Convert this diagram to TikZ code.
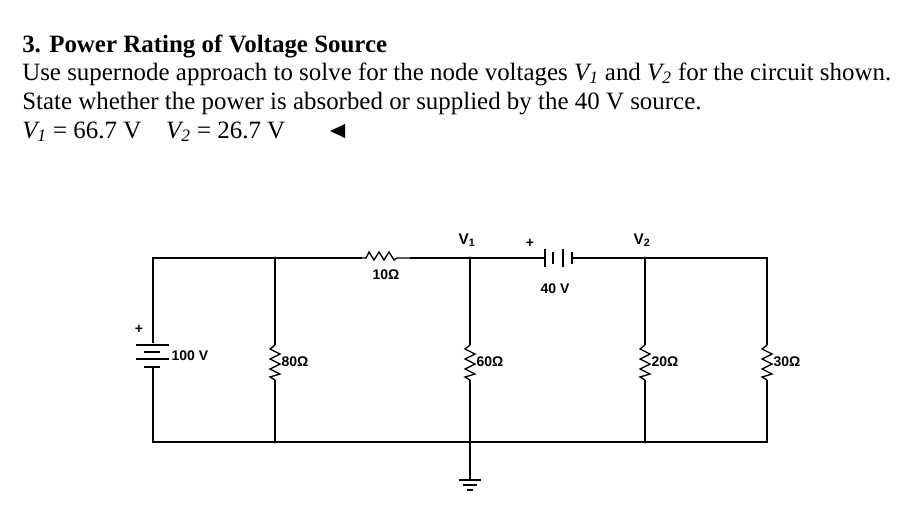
\documentclass[tikz,border=0pt]{standalone}
\usepackage{fontspec}
\setmainfont{Liberation Serif}
\newfontfamily\lab{Liberation Sans}
\begin{document}
\begin{tikzpicture}[x=0.75pt,y=-0.75pt,
  w/.style={line width=1pt},
  lb/.style={font=\lab\bfseries\fontsize{10.5}{12}\selectfont,inner sep=1pt},
  tx/.style={anchor=base west,inner sep=0pt,font=\fontsize{18.7}{20}\selectfont},
  dot/.style={circle,fill,inner sep=0pt,minimum size=2.5pt}]
\useasboundingbox (0,0) rectangle (919,514);
\node[tx,font=\bfseries\fontsize{18.7}{20}\selectfont] (t1) at (22,52) {3. Power Rating of Voltage Source};
\node[tx] (t2) at (22,80) {Use supernode approach to solve for the node voltages \textit{V\textsubscript{1}} and \textit{V\textsubscript{2}} for the circuit shown.};
\node[tx] (t3) at (22,109) {State whether the power is absorbed or supplied by the 40 V source.};
\node[tx] (t4) at (22,138) {\textit{V\textsubscript{1}} = 66.7 V\quad \textit{V\textsubscript{2}} = 26.7 V};
\fill (330,131) -- (345,124) -- (345,138) -- cycle;
\coordinate (TL) at (153,258); \coordinate (A) at (275,258); \coordinate (B) at (470,258);
\coordinate (C) at (645,258); \coordinate (TR) at (767,258);
\coordinate (BL) at (153,442); \coordinate (A2) at (275,442); \coordinate (B2) at (470,442);
\coordinate (C2) at (645,442); \coordinate (BR) at (767,442);
\coordinate (G) at (470,480);
\draw[w] (153,343) -- (TL) -- (A) -- (362,258);
\draw[w] (410,258) -- (B) -- (545,258);
\draw[w] (585,258) -- (C) -- (TR) -- (767,345);
\draw[w] (153,370) -- (BL) -- (BR) -- (767,380);
\draw[w] (B2) -- (G);
\foreach \x in {275,470,645}{\draw[w] (\x,258) -- (\x,345); \draw[w] (\x,380) -- (\x,442);}
\foreach \p in {A,B,C,A2,B2,C2}{\node[dot] at (\p) {};}
\foreach \x/\n/\t in {275/ra/80,470/rb/60,645/rc/20,767/rd/30}{
 \draw[w] (\x,345) -- (\x-5,349) -- (\x+5,354) -- (\x-5,359) -- (\x+5,364) -- (\x-5,369) -- (\x+5,374) -- (\x-5,377) -- (\x,380);
 \node[lb,anchor=west] (\n) at (\x+5,362) {\t Ω};}
\draw[w] (362,258) -- (366,258) -- (369,252) -- (374,260) -- (379,252) -- (384,260) -- (389,252) -- (394,260) -- (397,258) -- (410,258);
\node[lb] (r10) at (386,275) {10Ω};
\draw[w] (545,249) -- (545,267); \draw[w] (553,252) -- (553,264);
\draw[w] (563,249) -- (563,267); \draw[w] (572,252) -- (572,264) ;
\draw[w] (572,258) -- (585,258);
\node[lb] (v40) at (555,289) {40 V};
\node[lb] at (530,243) {+};
\draw[w] (136,345) -- (169,345); \draw[w] (144,352) -- (160,352);
\draw[w] (136,359) -- (169,359); \draw[w] (144,367) -- (160,367);
\draw[w] (153,367) -- (153,370);
\node[lb] at (139,329) {+};
\node[lb,anchor=west] (v100) at (170,356) {100 V};
\node[lb,font=\lab\bfseries\fontsize{11.5}{12}\selectfont] (n1) at (467,240) {V\textsubscript{1}};
\node[lb,font=\lab\bfseries\fontsize{11.5}{12}\selectfont] (n2) at (642,240) {V\textsubscript{2}};
\draw[w] (459,480) -- (481,480); \draw[w] (463,485) -- (477,485); \draw[w] (467,490) -- (473,490);
\end{tikzpicture}
\end{document}
